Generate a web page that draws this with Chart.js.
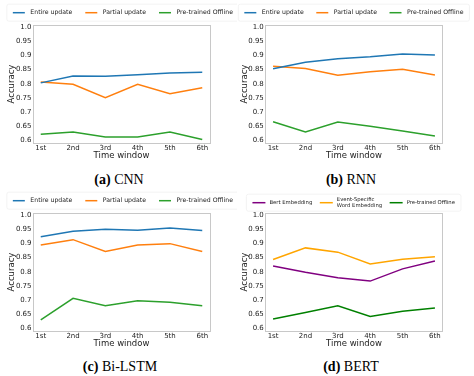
<!DOCTYPE html>
<html>
<head>
<meta charset="utf-8">
<script src="https://cdn.jsdelivr.net/npm/chart.js@4.4.1/dist/chart.umd.min.js"></script>
<style>
  body { margin: 0; background: #fff; }
  #wrap { position: relative; width: 474px; height: 376px; overflow: hidden; }
  .panel { position: absolute; width: 237px; height: 161px; }
  .cap { position: absolute; font-family: "Liberation Serif", serif; font-size: 14px; color: #000;
         white-space: nowrap; transform: translate(-50%, -50%); }
</style>
</head>
<body>
<div id="wrap">
  <div class="panel" style="left:0;top:0"><canvas id="cnn" width="237" height="161"></canvas></div>
  <div class="panel" style="left:237px;top:0"><canvas id="rnn" width="237" height="161"></canvas></div>
  <div class="panel" style="left:0;top:188px"><canvas id="lstm" width="237" height="161"></canvas></div>
  <div class="panel" style="left:237px;top:188px"><canvas id="bert" width="237" height="161"></canvas></div>
  <div class="cap" style="left:119px;top:180px"><b>(a)</b> CNN</div>
  <div class="cap" style="left:351px;top:180px"><b>(b)</b> RNN</div>
  <div class="cap" style="left:120px;top:367px"><b>(c)</b> Bi-LSTM</div>
  <div class="cap" style="left:351px;top:367px"><b>(d)</b> BERT</div>
</div>
<script>
// data
var windows = ['1st', '2nd', '3rd', '4th', '5th', '6th'];
var yTicks = [0.6, 0.65, 0.7, 0.75, 0.8, 0.85, 0.9, 0.95, 1.0];
var yTickLabels = ['0.6', '0.65', '0.7', '0.75', '0.8', '0.85', '0.9', '0.95', '1.0'];

var updateNames = ['Entire update', 'Partial update', 'Pre-trained Offline'];
var bertNames = ['Bert Embedding', 'Event-Specific\nWord Embedding', 'Pre-trained Offline'];

var cnnEntire = [0.803, 0.827, 0.826, 0.832, 0.838, 0.840];
var cnnPartial = [0.806, 0.798, 0.751, 0.798, 0.765, 0.786];
var cnnOffline = [0.622, 0.630, 0.612, 0.612, 0.630, 0.603];

var rnnEntire = [0.853, 0.876, 0.888, 0.895, 0.905, 0.901];
var rnnPartial = [0.862, 0.854, 0.830, 0.842, 0.851, 0.831];
var rnnOffline = [0.666, 0.630, 0.665, 0.650, 0.633, 0.616];

var lstmEntire = [0.923, 0.943, 0.950, 0.946, 0.954, 0.945];
var lstmPartial = [0.894, 0.913, 0.871, 0.894, 0.899, 0.871];
var lstmOffline = [0.630, 0.706, 0.680, 0.698, 0.692, 0.680];

var bertEmb = [0.820, 0.798, 0.779, 0.767, 0.810, 0.838];
var bertEvent = [0.843, 0.884, 0.869, 0.827, 0.844, 0.853];
var bertOffline = [0.633, 0.656, 0.680, 0.642, 0.661, 0.672];

var tabColors = ['#1f77b4', '#ff7f0e', '#2ca02c'];
var bertColors = ['#800080', '#ffa500', '#008000'];

var FONT = 'DejaVu Sans';

// grey box round the plot area
var frame = {
  id: 'frame',
  afterDraw: function(chart) {
    var a = chart.chartArea, ctx = chart.ctx;
    ctx.save();
    ctx.strokeStyle = '#c8c8c8';
    ctx.lineWidth = 1;
    ctx.strokeRect(Math.round(a.left) + 0.5, Math.round(a.top) + 0.5,
                   Math.round(a.right - a.left), Math.round(a.bottom - a.top));
    ctx.restore();
  }
};

// matplotlib-like legend drawn above the plot
var lineLegend = {
  id: 'lineLegend',
  afterDraw: function(chart, args, o) {
    var ctx = chart.ctx;
    ctx.save();
    ctx.font = o.size + 'px "' + FONT + '"';
    var items = chart.data.datasets.map(function(ds) {
      var lines = ds.label.split('\n');
      var w = Math.max.apply(null, lines.map(function(t) { return ctx.measureText(t).width; }));
      return { lines: lines, w: w, color: ds.borderColor };
    });
    var total = 0;
    items.forEach(function(it, i) { total += o.line + o.gap + it.w + (i ? o.space : 0); });
    var x = o.center - total / 2;

    ctx.strokeStyle = '#f0f0f0';
    ctx.lineWidth = 0.8;
    ctx.beginPath();
    ctx.roundRect(x - 6, o.y - 8.5, total + 12, 17, 2);
    ctx.stroke();

    var lh = o.size * 1.2;
    items.forEach(function(it) {
      ctx.strokeStyle = it.color;
      ctx.lineWidth = 1.5;
      ctx.beginPath();
      ctx.moveTo(x, o.y);
      ctx.lineTo(x + o.line, o.y);
      ctx.stroke();
      ctx.fillStyle = '#222';
      ctx.textAlign = 'left';
      ctx.textBaseline = 'middle';
      it.lines.forEach(function(t, j) {
        ctx.fillText(t, x + o.line + o.gap, o.y + (j - (it.lines.length - 1) / 2) * lh);
      });
      x += o.line + o.gap + it.w + o.space;
    });
    ctx.restore();
  }
};

function makeChart(id, names, colors, series, lay, leg) {
  var ctx = document.getElementById(id).getContext('2d');
  return new Chart(ctx, {
    type: 'line',
    data: {
      datasets: series.map(function(vals, k) {
        return {
          label: names[k],
          data: vals.map(function(v, i) { return { x: i, y: v }; }),
          borderColor: colors[k],
          backgroundColor: colors[k],
          borderWidth: 1.5,
          pointRadius: 0,
          tension: 0,
          fill: false
        };
      })
    },
    options: {
      responsive: false,
      animation: false,
      events: [],
      layout: { padding: { top: 25, right: lay.right, bottom: 0, left: 0 } },
      plugins: {
        legend: { display: false },
        tooltip: { enabled: false },
        lineLegend: leg
      },
      scales: {
        x: {
          type: 'linear',
          min: -0.24,
          max: 5.24,
          afterBuildTicks: function(s) { s.ticks = windows.map(function(w, i) { return { value: i }; }); },
          afterFit: function(s) { s.height = 18; },
          grid: { display: false, drawTicks: false },
          border: { display: false },
          ticks: {
            autoSkip: false, maxRotation: 0, padding: 0.5, color: '#222',
            font: { family: FONT, size: 7 },
            callback: function(v) { return windows[v]; }
          },
          title: {
            display: true, text: 'Time window', color: '#222',
            font: { family: FONT, size: 8.5 }, padding: { top: 0, bottom: 0 }
          }
        },
        y: {
          min: 0.591,
          max: 1.007,
          afterBuildTicks: function(s) { s.ticks = yTicks.map(function(v) { return { value: v }; }); },
          afterFit: function(s) { s.width = lay.yw; },
          grid: { display: false, drawTicks: false },
          border: { display: false },
          ticks: {
            autoSkip: false, padding: 1.5, color: '#222',
            font: { family: FONT, size: 7 },
            callback: function(v, i) { return yTickLabels[i]; }
          },
          title: {
            display: true, text: 'Accuracy', color: '#222',
            font: { family: FONT, size: 8.5 }, padding: { top: lay.tp, bottom: 0 }
          }
        }
      }
    },
    plugins: [frame, lineLegend]
  });
}

var leftLay = { yw: 33, right: 27, tp: 6.6 };
var rightLay = { yw: 28.3, right: 31.3, tp: 2.2 };

makeChart('cnn', updateNames, tabColors, [cnnEntire, cnnPartial, cnnOffline], leftLay,
  { center: 122.9, y: 12.7, line: 12, gap: 5.5, space: 13, size: 6.2 });
makeChart('rnn', updateNames, tabColors, [rnnEntire, rnnPartial, rnnOffline], rightLay,
  { center: 116.9, y: 12.7, line: 12, gap: 5.5, space: 12.5, size: 6.2 });
makeChart('lstm', updateNames, tabColors, [lstmEntire, lstmPartial, lstmOffline], leftLay,
  { center: 122.9, y: 12.7, line: 12, gap: 5.5, space: 13, size: 6.2 });
makeChart('bert', bertNames, bertColors, [bertEmb, bertEvent, bertOffline], rightLay,
  { center: 116.7, y: 14.7, line: 13, gap: 4, space: 7.5, size: 5.3 });
</script>
</body>
</html>
